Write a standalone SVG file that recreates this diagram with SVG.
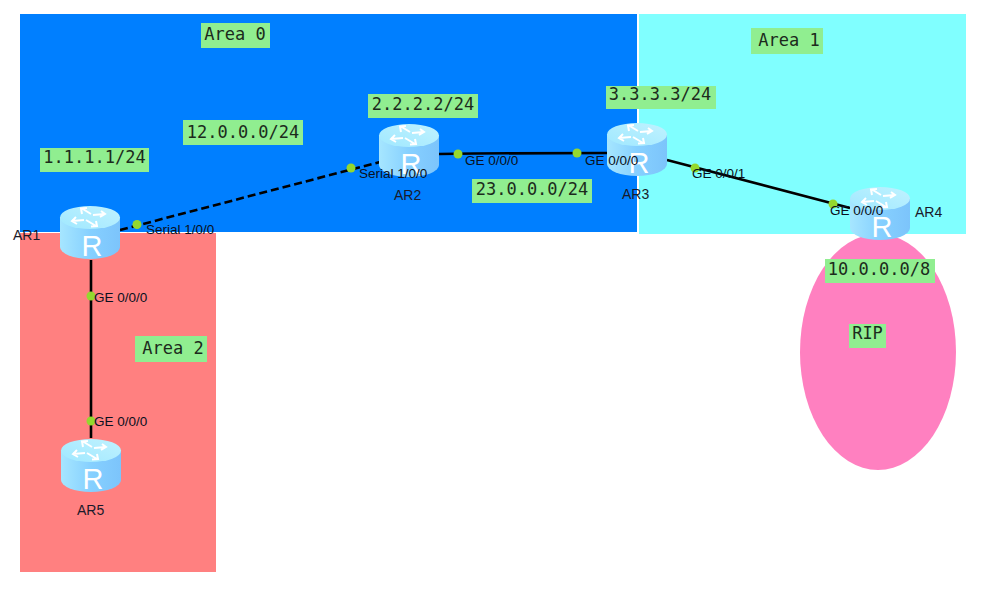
<svg xmlns="http://www.w3.org/2000/svg" width="985" height="591" viewBox="0 0 985 591">
<style>
.lb{fill:#90ee90}
.mono{font-family:"DejaVu Sans Mono","Liberation Mono",monospace;font-size:17px;fill:#1c2b1c;text-anchor:middle}
.port{font-family:"Liberation Sans",Arial,sans-serif;font-size:13.500px;fill:#0a1020}
.name{font-family:"Liberation Sans",Arial,sans-serif;font-size:14px;fill:#1a1a2a}
.link{fill:none;stroke:#000;stroke-width:2.600}
.dot{fill:#94d82e}
.rt{font-family:"Liberation Sans",Arial,sans-serif;font-size:29px;fill:#fff;text-anchor:middle}
</style>
<defs>
<linearGradient id="body" x1="0" x2="1" y1="0" y2="0">
<stop offset="0" stop-color="#a6e6ff"/><stop offset="0.5" stop-color="#86d0ff"/><stop offset="1" stop-color="#7cc4fb"/>
</linearGradient>
<linearGradient id="top" x1="0" x2="1" y1="1" y2="0">
<stop offset="0" stop-color="#a0e8ff"/><stop offset="1" stop-color="#c0f2ff"/>
</linearGradient>
<g id="router">
<path d="M0 12V42A30 12 0 0 0 60 42V12Z" fill="url(#body)"/>
<ellipse cx="30" cy="12.500" rx="30" ry="11.500" fill="url(#top)"/>
<path d="M24 15L12 16M16 12L12 16L17 19M33 10L45 9M41 6L45 9L40 12M31 9L22 3.500M27 3L21 3.500L22 9M26 15L36 21M31 21.500L37 21L36 16" fill="none" stroke="#fff" stroke-width="2"/>
<text class="rt" x="32" y="51">R</text>
</g>
</defs>
<g id="areas">
<rect id="area0" x="20" y="14" width="617" height="218" fill="#007fff"/>
<rect id="area1" x="639" y="14" width="327" height="220" fill="#80ffff"/>
<rect id="area2" x="20" y="233" width="196" height="339" fill="#ff8080"/>
<ellipse id="rip" cx="878" cy="352" rx="78" ry="118" fill="#ff80c0"/>
</g>
<g id="connectors">
<path class="link" stroke-dasharray="8 4" d="M120 230L380 162"/>
<path class="link" d="M439 154Q520 153 607 153"/>
<path class="link" d="M667 160L850 208"/>
<path class="link" d="M91 260V438"/>
</g>
<g id="AR1"><use href="#router" x="60" y="205"/><text class="name" x="13" y="240">AR1</text></g>
<g id="AR2"><use href="#router" x="379" y="123"/><text class="name" x="394" y="200">AR2</text></g>
<g id="AR3"><use href="#router" x="607" y="122"/><text class="name" x="622" y="199">AR3</text></g>
<g id="AR4"><use href="#router" x="850" y="186"/><text class="name" x="915" y="217">AR4</text></g>
<g id="AR5"><use href="#router" x="61" y="438"/><text class="name" x="77" y="515">AR5</text></g>
<g id="ports">
<circle class="dot" cx="137" cy="224.500" r="4.500"/><text class="port" x="146" y="234">Serial 1/0/0</text>
<circle class="dot" cx="351" cy="168" r="4.500"/><text class="port" x="359" y="178">Serial 1/0/0</text>
<circle class="dot" cx="458" cy="154" r="4.500"/><text class="port" x="465" y="165">GE 0/0/0</text>
<circle class="dot" cx="577" cy="153" r="4.500"/><text class="port" x="585" y="165">GE 0/0/0</text>
<circle class="dot" cx="695" cy="168" r="4.500"/><text class="port" x="692" y="178">GE 0/0/1</text>
<circle class="dot" cx="833" cy="204" r="4.500"/><text class="port" x="830" y="215">GE 0/0/0</text>
<circle class="dot" cx="91" cy="296" r="4.500"/><text class="port" x="94" y="302">GE 0/0/0</text>
<circle class="dot" cx="91" cy="421" r="4.500"/><text class="port" x="94" y="426">GE 0/0/0</text>
</g>
<g id="labels">
<rect class="lb" x="201" y="23" width="69" height="25"/><text class="mono" x="235" y="40">Area 0</text>
<rect class="lb" x="751" y="28" width="72" height="26"/><text class="mono" x="789" y="46">Area 1</text>
<rect class="lb" x="135" y="336" width="72" height="26"/><text class="mono" x="173" y="354">Area 2</text>
<rect class="lb" x="183" y="120" width="120" height="25"/><text class="mono" x="243" y="138">12.0.0.0/24</text>
<rect class="lb" x="40" y="148" width="109" height="24"/><text class="mono" x="94.500" y="163">1.1.1.1/24</text>
<rect class="lb" x="368" y="94" width="110" height="24"/><text class="mono" x="423" y="110">2.2.2.2/24</text>
<rect class="lb" x="606" y="86" width="110" height="23"/><text class="mono" x="660" y="100">3.3.3.3/24</text>
<rect class="lb" x="472" y="179" width="120" height="24"/><text class="mono" x="532" y="195">23.0.0.0/24</text>
<rect class="lb" x="825" y="259" width="110" height="24"/><text class="mono" x="879" y="275">10.0.0.0/8</text>
<rect class="lb" x="849" y="324" width="37" height="24"/><text class="mono" x="867.500" y="339">RIP</text>
</g>
</svg>
